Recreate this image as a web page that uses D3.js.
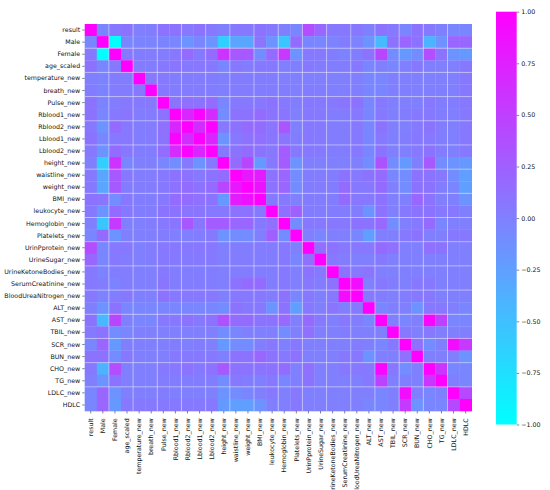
<!DOCTYPE html>
<html>
<head>
<meta charset="utf-8">
<script src="https://cdn.jsdelivr.net/npm/d3@7"></script>
<style>
  body { margin: 0; background: #fff; }
  svg { display: block; font-family: "DejaVu Sans", sans-serif; }
</style>
</head>
<body>
<svg id="chart" width="550" height="490"></svg>
<script>
// Variable names (rows and columns)
const labels = [
    'result', 'Male', 'Female', 'age_scaled', 'temperature_new', 'breath_new', 'Pulse_new',
    'Rblood1_new', 'Rblood2_new', 'Lblood1_new', 'Lblood2_new', 'height_new', 'waistline_new',
    'weight_new', 'BMI_new', 'leukocyte_new', 'Hemoglobin_new', 'Platelets_new', 'UrinPprotein_new',
    'UrineSugar_new', 'UrineKetoneBodies_new', 'SerumCreatinine_new', 'BloodUreaNitrogen_new',
    'ALT_new', 'AST_new', 'TBIL_new', 'SCR_new', 'BUN_new', 'CHO_new', 'TG_new', 'LDLC_new', 'HDLC'
];

// Lower triangle of the correlation matrix (row i holds columns 0..i)
const lowerTriangle = [
    [1],
    [-0.05, 1],
    [0.05, -1, 1],
    [0.1, -0.05, 0.05, 1],
    [0.0, -0.02, 0.02, 0.03, 1],
    [0.02, -0.03, 0.03, 0.02, 0.05, 1],
    [0.1, -0.03, 0.03, 0.05, 0.04, 0.05, 1],
    [0.1, -0.05, 0.05, 0.08, 0.02, 0.03, 0.1, 1],
    [0.06, -0.15, 0.15, 0.05, 0.02, 0.03, 0.12, 0.7, 1],
    [0.1, -0.05, 0.05, 0.07, 0.02, 0.03, 0.1, 0.97, 0.65, 1],
    [0.05, -0.15, 0.15, 0.05, 0.02, 0.02, 0.14, 0.66, 0.97, 0.7, 1],
    [0.0, -0.62, 0.6, -0.05, 0.0, 0.0, -0.05, -0.1, 0.05, -0.15, 0.05, 1],
    [0.05, -0.3, 0.3, 0.05, 0.02, 0.03, 0.05, 0.1, 0.1, 0.05, 0.1, 0.15, 1],
    [0.05, -0.3, 0.3, 0.03, 0.02, 0.03, 0.05, 0.1, 0.15, 0.1, 0.15, 0.45, 0.82, 1],
    [0.1, 0.08, -0.1, 0.05, 0.02, 0.02, 0.05, 0.15, 0.15, 0.12, 0.1, -0.2, 0.78, 0.86, 1],
    [0.05, -0.15, 0.15, 0.05, 0.02, 0.02, 0.1, 0.1, 0.08, 0.08, 0.05, 0.05, 0.1, 0.1, 0.05, 1],
    [0.0, -0.55, 0.55, 0.0, 0.0, 0.02, 0.05, 0.08, 0.32, 0.08, 0.28, 0.28, 0.2, 0.2, 0.05, 0.12, 1],
    [-0.05, 0.15, -0.15, 0.0, 0.0, 0.0, 0.02, 0.0, 0.0, 0.02, 0.05, -0.15, -0.1, -0.1, 0.0, 0.25, -0.1, 1],
    [0.4, -0.05, 0.05, 0.05, 0.0, 0.02, 0.05, 0.05, 0.05, 0.05, 0.05, 0.0, 0.02, 0.02, 0.03, 0.02, 0.05, 0.0, 1],
    [0.2, -0.05, 0.05, 0.03, 0.0, 0.02, 0.05, 0.04, 0.04, 0.04, 0.04, 0.0, 0.03, 0.03, 0.02, 0.02, 0.05, -0.05, 0.12, 1],
    [0.05, -0.02, 0.02, 0.02, 0.0, 0.0, 0.05, 0.02, 0.02, 0.02, 0.02, 0.0, 0.02, 0.02, 0.02, 0.02, 0.05, 0.0, 0.1, 0.05, 1],
    [0.05, 0.02, -0.02, 0.02, 0.0, 0.0, 0.08, 0.02, 0.02, 0.02, 0.02, 0.0, 0.1, 0.15, 0.15, 0.02, 0.05, 0.0, 0.05, 0.03, 0.1, 1],
    [0.05, -0.02, 0.02, 0.05, 0.0, 0.0, 0.1, 0.05, 0.05, 0.05, 0.05, 0.0, 0.05, 0.05, 0.05, 0.02, 0.1, -0.05, 0.05, 0.0, 0.05, 0.9, 1],
    [0.0, -0.15, 0.1, -0.05, -0.05, -0.05, -0.05, -0.05, -0.05, -0.05, -0.05, -0.1, 0.1, 0.05, 0.05, -0.15, 0.1, -0.25, 0.05, 0.0, 0.08, 0.0, 0.05, 1],
    [0.1, -0.45, 0.45, 0.0, -0.05, -0.05, 0.05, 0.05, 0.1, 0.05, 0.1, 0.35, 0.15, 0.15, 0.1, 0.1, 0.18, 0.0, 0.15, 0.05, 0.0, 0.05, 0.02, -0.05, 1],
    [0.05, 0.1, -0.1, -0.05, 0.0, 0.0, 0.0, 0.0, 0.0, 0.0, 0.0, -0.1, -0.05, 0.0, 0.0, 0.0, -0.1, 0.0, 0.12, 0.0, 0.0, 0.02, 0.0, 0.0, 0.0, 1],
    [-0.05, 0.2, -0.2, 0.0, 0.0, 0.0, 0.0, 0.02, 0.0, 0.02, 0.0, -0.2, -0.1, -0.1, 0.0, 0.05, 0.0, 0.05, 0.0, 0.0, 0.0, 0.0, 0.02, 0.0, -0.05, 0.05, 1],
    [0.1, 0.1, -0.1, 0.05, 0.0, 0.0, 0.0, 0.05, 0.05, 0.05, 0.05, 0.0, 0.1, 0.1, 0.2, 0.1, 0.05, 0.1, 0.0, 0.0, 0.0, 0.05, 0.05, -0.15, 0.0, 0.0, 0.12, 1],
    [0.05, -0.4, 0.4, 0.0, 0.0, 0.0, 0.05, 0.05, 0.1, 0.05, 0.1, 0.3, 0.1, 0.1, 0.1, 0.1, 0.15, 0.0, 0.12, 0.0, 0.0, 0.05, 0.05, 0.05, 0.95, 0.05, -0.1, 0.0, 1],
    [0.0, -0.15, 0.1, 0.0, 0.0, 0.0, 0.02, 0.02, 0.02, 0.02, 0.02, -0.1, 0.05, 0.02, 0.0, 0.05, -0.05, 0.0, 0.1, 0.0, 0.0, 0.0, 0.0, 0.05, 0.48, 0.0, 0.0, 0.0, 0.58, 1],
    [-0.05, 0.2, -0.15, 0.0, 0.0, 0.0, 0.02, 0.0, 0.0, 0.0, 0.0, -0.15, -0.1, -0.05, 0.0, 0.05, 0.0, 0.05, 0.0, 0.0, 0.0, 0.0, 0.0, 0.0, -0.05, 0.0, 0.9, 0.0, -0.05, 0.0, 1],
    [-0.05, 0.2, -0.2, 0.05, 0.05, 0.05, 0.05, 0.05, 0.05, 0.05, 0.05, -0.2, -0.25, -0.25, -0.15, 0.0, 0.0, 0.05, 0.0, 0.0, 0.0, 0.0, 0.0, -0.05, -0.05, 0.0, 0.55, -0.15, -0.05, -0.05, 0.43, 1]
];

// Colorbar ticks
const colorbarTicks = [1.0, 0.75, 0.5, 0.25, 0.0, -0.25, -0.5, -0.75, -1.0];

// Build the full symmetric matrix from the lower triangle
function buildCells() {
    const cells = [];
    for (let i = 0; i < labels.length; i++) {
        for (let j = 0; j < labels.length; j++) {
            const v = j <= i ? lowerTriangle[i][j] : lowerTriangle[j][i];
            cells.push({ row: labels[i], col: labels[j], value: v });
        }
    }
    return cells;
}

function drawChart() {
    const svg = d3.select('#chart');
    const left = 84.7, top = 24, size = 387;
    const fontSize = '6.3px';
    const textColor = '#111';

    // matplotlib "cool" colormap: cyan -> magenta
    const color = d3.scaleSequential(d3.interpolateRgb('#00ffff', '#ff00ff')).domain([-1, 1]);

    const x = d3.scaleBand().domain(labels).range([left, left + size]);
    const y = d3.scaleBand().domain(labels).range([top, top + size]);

    svg.append('rect').attr('width', 550).attr('height', 490).attr('fill', '#fff');

    // Heatmap cells
    svg.append('g')
        .selectAll('rect')
        .data(buildCells())
        .enter()
        .append('rect')
        .attr('x', d => x(d.col))
        .attr('y', d => y(d.row))
        .attr('width', x.bandwidth() + 0.3)
        .attr('height', y.bandwidth() + 0.3)
        .attr('fill', d => color(d.value));

    // Faint white grid every two cells
    const gridIdx = d3.range(2, labels.length, 2);
    const grid = svg.append('g').attr('stroke', '#fff').attr('stroke-opacity', 0.55).attr('stroke-width', 0.8);
    gridIdx.forEach(k => {
        const gx = x(labels[k]);
        const gy = y(labels[k]);
        grid.append('line').attr('x1', gx).attr('x2', gx).attr('y1', top).attr('y2', top + size);
        grid.append('line').attr('x1', left).attr('x2', left + size).attr('y1', gy).attr('y2', gy);
    });

    // Y axis
    const yAxis = svg.append('g')
        .attr('transform', `translate(${left},0)`)
        .call(d3.axisLeft(y).tickSize(2.5).tickPadding(2));
    yAxis.select('.domain').remove();
    yAxis.selectAll('text').attr('font-size', fontSize).attr('fill', textColor).attr('font-family', 'DejaVu Sans');
    yAxis.selectAll('line').attr('stroke', '#333').attr('stroke-width', 0.6);

    // X axis with vertical labels
    const xAxis = svg.append('g')
        .attr('transform', `translate(0,${top + size})`)
        .call(d3.axisBottom(x).tickSize(2.5).tickPadding(2));
    xAxis.select('.domain').remove();
    xAxis.selectAll('line').attr('stroke', '#333').attr('stroke-width', 0.6);
    xAxis.selectAll('text')
        .attr('font-size', fontSize)
        .attr('fill', textColor)
        .attr('font-family', 'DejaVu Sans')
        .attr('text-anchor', 'end')
        .attr('dy', '0.35em')
        .attr('transform', 'translate(0,7.3) rotate(-90)')
        .attr('x', 0)
        .attr('y', 0);

    // Colorbar
    const cbX = 496, cbW = 20.7, cbTop = 11.7, cbBottom = 424.5;
    const cbScale = d3.scaleLinear().domain([-1, 1]).range([cbBottom, cbTop]);
    const defs = svg.append('defs');
    const grad = defs.append('linearGradient')
        .attr('id', 'cbgrad')
        .attr('x1', 0).attr('y1', 1).attr('x2', 0).attr('y2', 0);
    d3.range(0, 1.01, 0.1).forEach(t => {
        grad.append('stop').attr('offset', t).attr('stop-color', color(t * 2 - 1));
    });
    svg.append('rect')
        .attr('x', cbX).attr('y', cbTop)
        .attr('width', cbW).attr('height', cbBottom - cbTop)
        .attr('fill', 'url(#cbgrad)');

    const cbAxis = svg.append('g')
        .attr('transform', `translate(${cbX + cbW},0)`)
        .call(d3.axisRight(cbScale).tickValues(colorbarTicks).tickSize(2.5).tickPadding(2)
            .tickFormat(d => d3.format('.2f')(d).replace('-', '\u2212')));
    cbAxis.select('.domain').remove();
    cbAxis.selectAll('line').attr('stroke', '#333').attr('stroke-width', 0.6);
    cbAxis.selectAll('text').attr('font-size', fontSize).attr('fill', textColor).attr('font-family', 'DejaVu Sans');
}

drawChart();
</script>
</body>
</html>
